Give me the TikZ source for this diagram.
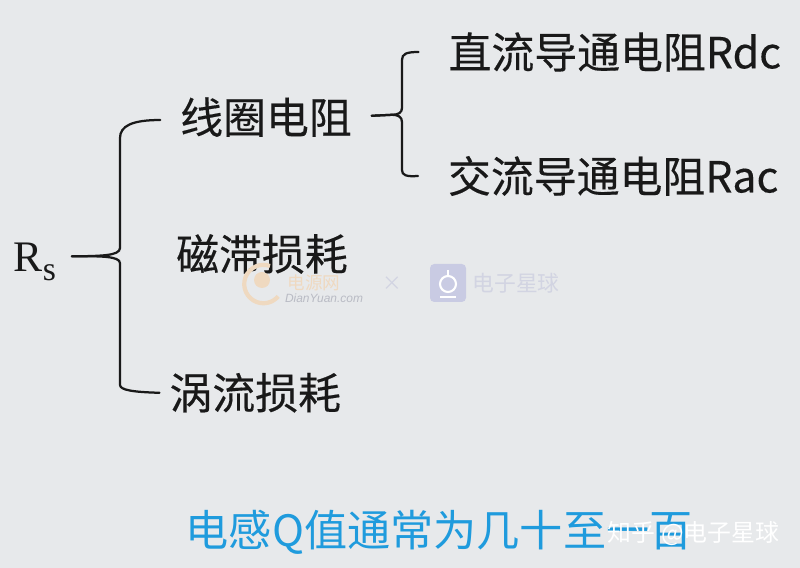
\documentclass[tikz,border=0pt]{standalone}
\usepackage{fontspec}
\setmainfont{Noto Sans CJK SC}
\newfontfamily\termfont[FakeBold=0.3]{Noto Sans CJK SC}
\newfontfamily\latinserif{Liberation Serif}
\newfontfamily\latinsans{Liberation Sans}
\definecolor{pagegray}{HTML}{E7E9EB}
\definecolor{noteblue}{HTML}{1F9BDD}
\definecolor{markgray}{HTML}{D2D4E2}
\definecolor{markorange}{HTML}{EFD9C0}
\definecolor{markicon}{HTML}{C9CBE3}
\tikzset{
	brace/.style={line width=1.6pt,black!90,line cap=round},
	term/.style={inner sep=0pt,font=\termfont\fontsize{30.5}{32}\selectfont,text=black!90},
	plain/.style={inner sep=0pt},
}
\begin{document}
\begin{tikzpicture}
	\useasboundingbox[fill=pagegray] (0,0) rectangle (20,14.2);

	% Terms
	\node[term,font=\latinserif\fontsize{31}{32}\selectfont,outer xsep=.4cm] (Rs) at (0.87,7.65) {R\raisebox{-0.22em}{\fontsize{24}{24}\selectfont s}};
	\node[term,outer xsep=.5cm] (coil) at (6.65,11.27) {线圈电阻};
	\node[term] (hyst) at (6.55,7.85) {磁滞损耗};
	\node[term,outer xsep=.25cm] (eddy) at (6.38,4.38) {涡流损耗};
	\node[term,outer xsep=.75cm] (rdc) at (15.37,12.9) {直流导通电阻Rdc};
	\node[term,outer xsep=.75cm] (rac) at (15.33,9.8) {交流导通电阻Rac};

	% Watermark
	\draw[markorange,line width=3pt] (6.75,7.55) arc (70:320:0.48);
	\fill[markorange] (6.55,7.2) circle (0.2);
	\node[plain,font=\fontsize{12.5}{13}\selectfont,text=markorange] (markA) at (7.85,7.12) {电源网};
	\node[plain,font=\latinsans\itshape\fontsize{8.5}{9}\selectfont,text=markgray!70!gray] (markB) at (8.1,6.75) {DianYuan.com};
	\node[plain,font=\fontsize{14}{14}\selectfont,text=markgray] (markX) at (9.82,7.12) {×};
	\fill[markicon,rounded corners=3pt] (10.75,6.65) rectangle (11.65,7.6);
	\draw[white,line width=1.5pt] (11.2,7.1) circle (0.2);
	\draw[white,line width=1pt] (11.2,7.3) -- (11.2,7.45);
	\draw[white,line width=1.5pt] (11,6.78) -- (11.4,6.78);
	\node[plain,font=\fontsize{15.5}{16}\selectfont,text=markgray] (markC) at (12.9,7.12) {电子星球};

	% Note
	\node[plain,font=\fontsize{30.7}{34}\selectfont,text=noteblue] (note) at (10.98,0.9) {电感Q值通常为几十至一百};
	\node[plain,font=\fontsize{17}{18}\selectfont,text=white] (zhihu) at (17.34,0.85) {知乎 @电子星球};

	% Points
	\coordinate (B) at (3,8.0);
	\coordinate (C) at (3,7.62);
	\coordinate (D) at (3,10.75);
	\coordinate (E) at (3,4.58);
	\coordinate (G) at (10.05,11.5);
	\coordinate (H) at (10.05,11.15);
	\coordinate (I) at (10.05,12.7);
	\coordinate (J) at (10.05,9.95);

	% Segments
	\draw[brace] ([yshift=4pt]Rs.east) .. controls (2.5,7.8) and (3,7.8) .. (B) -- (D) .. controls (3,11.05) and (3.3,11.2) .. ([yshift=-2pt]coil.west);
	\draw[brace] ([yshift=4pt]Rs.east) .. controls (2.5,7.8) and (3,7.8) .. (C) -- (E) .. controls (3,4.45) and (3.3,4.4) .. (eddy.west);
	\draw[brace] ([yshift=1pt]coil.east) -- (9.8,11.33) .. controls (9.95,11.33) and (10.05,11.38) .. (G) -- (I) .. controls (10.05,12.85) and (10.15,12.9) .. (rdc.west);
	\draw[brace] ([yshift=1pt]coil.east) -- (9.8,11.33) .. controls (9.95,11.33) and (10.05,11.28) .. (H) -- (J) .. controls (10.05,9.82) and (10.15,9.78) .. (rac.west);
\end{tikzpicture}
\end{document}
